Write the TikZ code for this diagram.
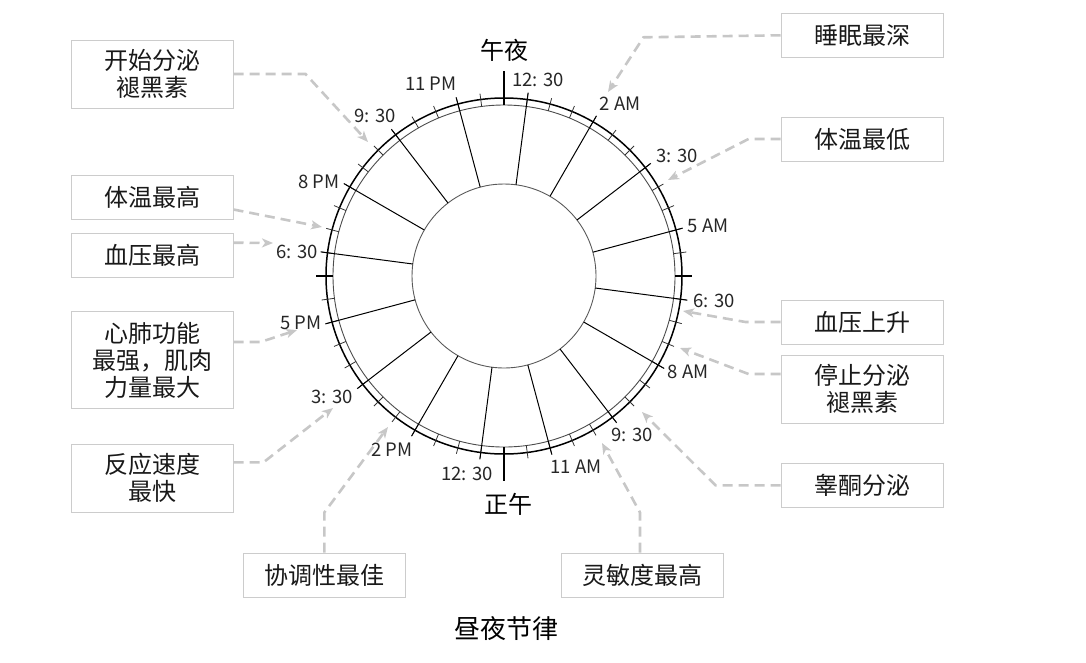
\documentclass[tikz,border=0pt]{standalone}
\usepackage{fontspec}
\setmainfont{Noto Sans CJK SC}
\usetikzlibrary{arrows.meta}

\begin{document}
\begin{tikzpicture}[
    x=1pt, y=-1pt,
    >={Stealth[length=11pt,width=9pt,inset=3pt]},
    note/.style={
        draw=black!20,
        line width=1pt,
        align=center,
        minimum width=162pt,
        minimum height=44pt,
        inner sep=0pt,
        text=black!90,
        font=\fontsize{24}{27}\selectfont
    },
    conn/.style={
        ->,
        draw=black!22,
        line width=2.6pt,
        dash pattern=on 10pt off 6pt
    },
    hourlabel/.style={
        inner sep=0pt,
        text=black!85,
        font=\fontsize{18.5}{20}\selectfont
    },
    spoke/.style={draw=black, line width=1pt},
    smalltick/.style={draw=black!80, line width=0.8pt},
    bigtick/.style={draw=black, line width=2.8pt}
]

\useasboundingbox (0,0) rectangle (1086,662);

\begin{scope}[shift={(504,276)}]
    \draw[black!65, line width=0.9pt] (0,0) circle[radius=92pt];
    \draw[black!70, line width=0.9pt] (0,0) circle[radius=171pt];
    \draw[black, line width=1.5pt] (0,0) circle[radius=178pt];
    \foreach \k in {0,...,47}
        \draw[smalltick] ({7.5*\k-90}:171) -- ({7.5*\k-90}:184);
    \foreach \k in {0,...,15}
        \draw[spoke] ({7.5+22.5*\k-90}:92) -- ({7.5+22.5*\k-90}:185);
    \foreach \a/\r in {-90/205, 0/188, 90/205, 180/188}
        \draw[bigtick] (\a:171) -- (\a:\r);
    \coordinate (a2)   at (104,-184);
    \coordinate (a4)   at (164,-96);
    \coordinate (a645) at (179,35);
    \coordinate (a730) at (176,72);
    \coordinate (a9)   at (138,136);
    \coordinate (a10)  at (98,167);
    \coordinate (a1430) at (-116,151);
    \coordinate (a1530) at (-171,132);
    \coordinate (a17)  at (-207,54);
    \coordinate (a1830) at (-231,-33);
    \coordinate (a19)  at (-182,-49);
    \coordinate (a21)  at (-136,-134);
\end{scope}

\foreach \x/\y/\t [count=\i] in {538/80/{12: 30}, 620/104/{2 AM}, 677/156/{3: 30},
        708/226/{5 AM}, 714/301/{6: 30}, 688/372/{8 AM}, 632/435/{9: 30},
        576/467/{11 AM}, 467/474/{12: 30}, 392/450/{2 PM}, 332/397/{3: 30},
        301/323/{5 PM}, 297/252/{6: 30}, 319/182/{8 PM}, 375/116/{9: 30},
        431/84/{11 PM}}
    \node[hourlabel] (h\i) at (\x,\y) {\t};

\node[font=\fontsize{24}{27}\selectfont] (midnight) at (504,50) {午夜};
\node[font=\fontsize{24}{27}\selectfont] (noon) at (508,504) {正午};
\node[font=\fontsize{26}{28}\selectfont] (title) at (506,629) {昼夜节律};

\node[note, minimum height=68pt] (melstart) at (152,74) {开始分泌\\褪黑素};
\node[note] (tmax) at (152,197.5) {体温最高};
\node[note] (bpmax) at (152,255.7) {血压最高};
\node[note, minimum height=97pt] (cardio) at (152,360) {心肺功能\\最强，肌肉\\力量最大};
\node[note, minimum height=68pt] (react) at (152,478.3) {反应速度\\最快};
\node[note] (coord) at (324.3,575) {协调性最佳};
\node[note] (alert) at (642,575) {灵敏度最高};

\node[note] (sleep) at (862,35.3) {睡眠最深};
\node[note] (tmin) at (862,139) {体温最低};
\node[note] (bprise) at (862,322) {血压上升};
\node[note, minimum height=68pt] (melstop) at (862,389) {停止分泌\\褪黑素};
\node[note] (testo) at (862,485.3) {睾酮分泌};

\draw[conn] (melstart.east) -- ++(72,0) -- (a21);
\draw[conn] ([yshift=-12pt]tmax.east) -- (a19);
\draw[conn] ([yshift=13pt]bpmax.east) -- (a1830);
\draw[conn] ([yshift=18pt]cardio.east) -- ++(27,0) -- (a17);
\draw[conn] ([yshift=16pt]react.east) -- ++(30,0) -- (a1530);
\draw[conn] (coord.north) -- ++(0,-40) -- (a1430);
\draw[conn] ([xshift=-2pt]alert.north) -- ++(0,-40) -- (a10);

\draw[conn] (sleep.west) -- ++(-137,2) -- (a2);
\draw[conn] (tmin.west) -- ++(-32,0) -- (a4);
\draw[conn] (bprise.west) -- ++(-35,0) -- (a645);
\draw[conn] ([yshift=15pt]melstop.west) -- ++(-32,0) -- (a730);
\draw[conn] (testo.west) -- ++(-65,0) -- (a9);

\end{tikzpicture}
\end{document}
